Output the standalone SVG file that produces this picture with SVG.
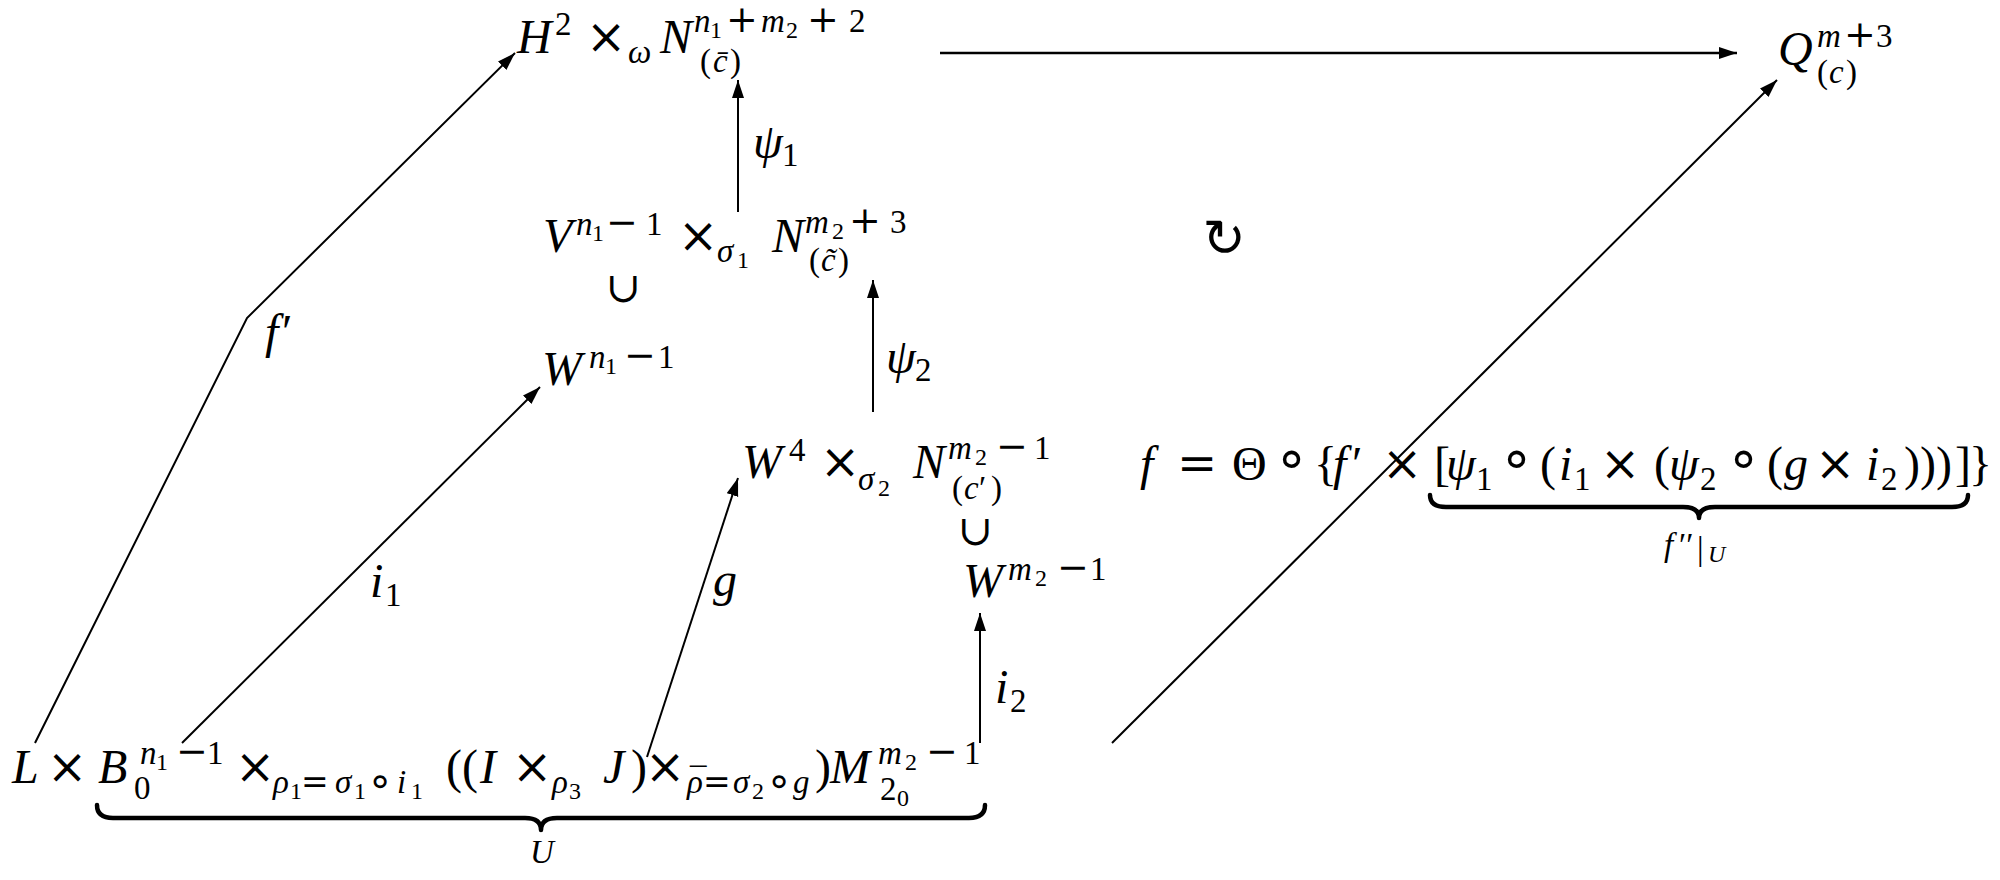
<svg xmlns="http://www.w3.org/2000/svg" width="2000" height="880" viewBox="0 0 2000 880">
<style>
.t{font-family:"Liberation Serif","DejaVu Serif",serif;fill:#000}
.it{font-style:italic}
.L{font-size:48px}
.M{font-size:33px}
.S{font-size:24px}
.op{font-family:"DejaVu Serif","Liberation Serif",serif;font-style:normal}
.O{font-family:"DejaVu Serif","Liberation Serif",serif;font-size:38px}
.ring{font-family:"DejaVu Sans","DejaVu Serif",sans-serif;font-style:normal}
.brace{fill:none;stroke:#000;stroke-width:4.5;stroke-linejoin:round;stroke-linecap:round}
</style>
<defs>
<marker id="ah" markerUnits="userSpaceOnUse" markerWidth="20" markerHeight="14" refX="18" refY="6" orient="auto"><path d="M0,0 L18,6 L0,12 z" fill="#000"/></marker>
</defs>
<rect width="2000" height="880" fill="#fff"/>

<g id="connectors" fill="none" stroke="#000" stroke-width="2">
<line id="e-HQ" x1="940" y1="53" x2="1737" y2="53" stroke-width="2.5" marker-end="url(#ah)"/>
<line id="e-psi1" x1="738" y1="212" x2="738" y2="80" marker-end="url(#ah)"/>
<line id="e-psi2" x1="873" y1="412" x2="873" y2="280" marker-end="url(#ah)"/>
<polyline id="e-fprime" points="35,743 247,318 515,53" marker-end="url(#ah)"/>
<line id="e-i1" x1="182" y1="743" x2="540" y2="387" marker-end="url(#ah)"/>
<line id="e-g" x1="647" y1="757" x2="738" y2="478" marker-end="url(#ah)"/>
<line id="e-i2" x1="980" y1="743" x2="980" y2="613" marker-end="url(#ah)"/>
<line id="e-UQ" x1="1112" y1="743" x2="1777" y2="80" marker-end="url(#ah)"/>
</g>

<g id="edge-labels">
<text class="t"><tspan class="L it" x="753" y="158">ψ</tspan><tspan class="M" x="782" y="166">1</tspan></text>
<text class="t"><tspan class="L it" x="886" y="373">ψ</tspan><tspan class="M" x="915" y="381">2</tspan></text>
<text class="t"><tspan class="L it" x="265" y="348">f</tspan><tspan class="L" x="282" y="348">′</tspan></text>
<text class="t"><tspan class="L it" x="370" y="597">i</tspan><tspan class="M" x="385" y="606">1</tspan></text>
<text class="t L it" x="713" y="596">g</text>
<text class="t"><tspan class="L it" x="995" y="703">i</tspan><tspan class="M" x="1010" y="712">2</tspan></text>
</g>

<g id="n-H">
<text class="t">
<tspan class="L it" x="517" y="53">H</tspan>
<tspan class="M" x="555" y="35">2</tspan>
<tspan class="L op" x="586" y="53">×</tspan>
<tspan class="M it" x="628" y="63">ω</tspan>
<tspan class="L it" x="660" y="53">N</tspan>
<tspan class="M it" x="694" y="32">n</tspan>
<tspan class="S" x="710" y="38">1</tspan>
<tspan class="O" x="726" y="32">+</tspan>
<tspan class="M it" x="761" y="32">m</tspan>
<tspan class="S" x="786" y="38">2</tspan>
<tspan class="O" x="807" y="32">+</tspan>
<tspan class="M" x="849" y="32">2</tspan>
<tspan class="M" x="700" y="72">(</tspan>
<tspan class="M it" x="713" y="72">c&#x304;</tspan>
<tspan class="M" x="730" y="72">)</tspan>
</text>
</g>

<g id="n-Q">
<text class="t">
<tspan class="L it" x="1778" y="65">Q</tspan>
<tspan class="M it" x="1817" y="47">m</tspan>
<tspan class="O" x="1844" y="47">+</tspan>
<tspan class="M" x="1876" y="47">3</tspan>
<tspan class="M" x="1817" y="83">(</tspan>
<tspan class="M it" x="1829" y="83">c</tspan>
<tspan class="M" x="1846" y="83">)</tspan>
</text>
</g>

<g id="n-V">
<text class="t">
<tspan class="L it" x="543" y="252">V</tspan>
<tspan class="M it" x="576" y="235">n</tspan>
<tspan class="S" x="592" y="241">1</tspan>
<tspan class="O" x="606" y="235">−</tspan>
<tspan class="M" x="646" y="235">1</tspan>
<tspan class="L op" x="678" y="252">×</tspan>
<tspan class="M it" x="717" y="262">σ</tspan>
<tspan class="S" x="737" y="268">1</tspan>
<tspan class="L it" x="772" y="252">N</tspan>
<tspan class="M it" x="805" y="233">m</tspan>
<tspan class="S" x="832" y="239">2</tspan>
<tspan class="O" x="849" y="233">+</tspan>
<tspan class="M" x="890" y="233">3</tspan>
<tspan class="M" x="809" y="271">(</tspan>
<tspan class="M it" x="821" y="271">c&#x303;</tspan>
<tspan class="M" x="838" y="271">)</tspan>
</text>
<text class="t op" x="623" y="302" text-anchor="middle" style="font-size:42px">∪</text>
</g>

<g id="n-Wn1">
<text class="t">
<tspan class="L it" x="542" y="385">W</tspan>
<tspan class="M it" x="589" y="368">n</tspan>
<tspan class="S" x="605" y="374">1</tspan>
<tspan class="O" x="624" y="368">−</tspan>
<tspan class="M" x="658" y="368">1</tspan>
</text>
</g>

<g id="n-W4">
<text class="t">
<tspan class="L it" x="742" y="478">W</tspan>
<tspan class="M" x="789" y="461">4</tspan>
<tspan class="L op" x="820" y="478">×</tspan>
<tspan class="M it" x="858" y="490">σ</tspan>
<tspan class="S" x="878" y="496">2</tspan>
<tspan class="L it" x="913" y="478">N</tspan>
<tspan class="M it" x="948" y="459">m</tspan>
<tspan class="S" x="975" y="465">2</tspan>
<tspan class="O" x="996" y="459">−</tspan>
<tspan class="M" x="1034" y="459">1</tspan>
<tspan class="M" x="952" y="499">(</tspan>
<tspan class="M it" x="964" y="499">c</tspan>
<tspan class="M" x="979" y="499">′</tspan>
<tspan class="M" x="991" y="499">)</tspan>
</text>
<text class="t op" x="975" y="545" text-anchor="middle" style="font-size:42px">∪</text>
</g>

<g id="n-Wm2">
<text class="t">
<tspan class="L it" x="963" y="597">W</tspan>
<tspan class="M it" x="1008" y="580">m</tspan>
<tspan class="S" x="1035" y="586">2</tspan>
<tspan class="O" x="1057" y="580">−</tspan>
<tspan class="M" x="1090" y="580">1</tspan>
</text>
</g>

<g id="n-source">
<text class="t">
<tspan class="L it" x="12" y="783">L</tspan>
<tspan class="L op" x="47" y="783">×</tspan>
<tspan class="L it" x="98" y="783">B</tspan>
<tspan class="M" x="134" y="799">0</tspan>
<tspan class="M it" x="140" y="764">n</tspan>
<tspan class="S" x="156" y="770">1</tspan>
<tspan class="O" x="176" y="764">−</tspan>
<tspan class="M" x="207" y="764">1</tspan>
<tspan class="L op" x="235" y="783">×</tspan>
<tspan class="M it" x="273" y="793">ρ</tspan>
<tspan class="S" x="290" y="799">1</tspan>
<tspan class="M op" x="301" y="793">=</tspan>
<tspan class="M it" x="335" y="793">σ</tspan>
<tspan class="S" x="354" y="799">1</tspan>
<tspan class="ring" x="367" y="795" style="font-size:42px">∘</tspan>
<tspan class="M it" x="397" y="793">i</tspan>
<tspan class="S" x="411" y="799">1</tspan>
<tspan class="L" x="446" y="783">((</tspan>
<tspan class="L it" x="480" y="783">I</tspan>
<tspan class="L op" x="512" y="783">×</tspan>
<tspan class="M it" x="552" y="793">ρ</tspan>
<tspan class="S" x="569" y="799">3</tspan>
<tspan class="L it" x="603" y="783">J</tspan>
<tspan class="L" x="631" y="783">)</tspan>
<tspan class="L op" x="645" y="783">×</tspan>
<tspan class="M it" x="687" y="793">ρ</tspan>
<tspan class="M" x="690" y="791">¯</tspan>
<tspan class="M op" x="703" y="793">=</tspan>
<tspan class="M it" x="733" y="793">σ</tspan>
<tspan class="S" x="752" y="799">2</tspan>
<tspan class="ring" x="766" y="795" style="font-size:42px">∘</tspan>
<tspan class="M it" x="793" y="793">g</tspan>
<tspan class="L" x="815" y="783">)</tspan>
<tspan class="L it" x="830" y="783">M</tspan>
<tspan class="M it" x="878" y="764">m</tspan>
<tspan class="S" x="905" y="770">2</tspan>
<tspan class="O" x="926" y="764">−</tspan>
<tspan class="M" x="964" y="764">1</tspan>
<tspan class="M" x="880" y="800">2</tspan>
<tspan class="S" x="897" y="806">0</tspan>
</text>
</g>

<g id="brace-U">
<path class="brace" d="M97,805 Q97,818 113,818 L525,818 Q541,818 541,830 Q541,818 557,818 L969,818 Q985,818 985,805"/>
<text class="t M it" x="530" y="863">U</text>
</g>

<g id="formula">
<text class="t">
<tspan class="L it" x="1140" y="480">f</tspan>
<tspan class="L op" x="1177" y="480">=</tspan>
<tspan class="L" x="1232" y="480">Θ</tspan>
<tspan class="ring" x="1274" y="477" style="font-size:56px">∘</tspan>
<tspan class="L" x="1314" y="480">{</tspan>
<tspan class="L it" x="1333" y="480">f</tspan>
<tspan class="L" x="1352" y="480">′</tspan>
<tspan class="L op" x="1382" y="480">×</tspan>
<tspan class="L" x="1434" y="480">[</tspan>
<tspan class="L it" x="1446" y="480">ψ</tspan>
<tspan class="M" x="1476" y="490">1</tspan>
<tspan class="ring" x="1499" y="477" style="font-size:56px">∘</tspan>
<tspan class="L" x="1540" y="480">(</tspan>
<tspan class="L it" x="1559" y="480">i</tspan>
<tspan class="M" x="1574" y="490">1</tspan>
<tspan class="L op" x="1600" y="480">×</tspan>
<tspan class="L" x="1654" y="480">(</tspan>
<tspan class="L it" x="1669" y="480">ψ</tspan>
<tspan class="M" x="1700" y="490">2</tspan>
<tspan class="ring" x="1726" y="477" style="font-size:56px">∘</tspan>
<tspan class="L" x="1767" y="480">(</tspan>
<tspan class="L it" x="1784" y="480">g</tspan>
<tspan class="L op" x="1815" y="480">×</tspan>
<tspan class="L it" x="1866" y="480">i</tspan>
<tspan class="M" x="1881" y="490">2</tspan>
<tspan class="L" x="1904" y="480">)))</tspan>
<tspan class="L" x="1955" y="480">]</tspan>
<tspan class="L" x="1969" y="480">}</tspan>
</text>
<path class="brace" d="M1430,495 Q1430,507 1446,507 L1683,507 Q1699,507 1699,518 Q1699,507 1715,507 L1952,507 Q1968,507 1968,495"/>
<text class="t"><tspan class="M it" x="1664" y="556">f</tspan><tspan class="M" x="1679" y="556">′′</tspan><tspan class="M" x="1697" y="560">|</tspan><tspan class="S it" x="1708" y="562">U</tspan></text>
</g>

<g id="commute">
<text x="1224" y="256" text-anchor="middle" style="font-family:'DejaVu Sans',sans-serif;font-size:52px;fill:#000">↻</text>
</g>
</svg>
